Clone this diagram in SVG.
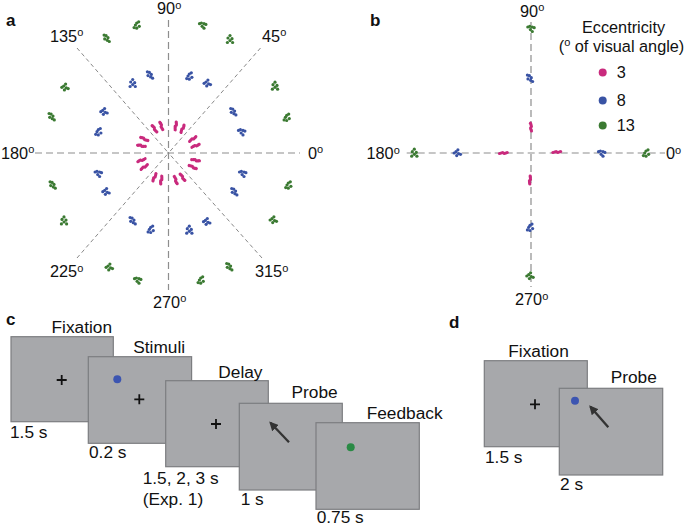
<svg xmlns="http://www.w3.org/2000/svg" xmlns:xlink="http://www.w3.org/1999/xlink" width="685" height="526" viewBox="0 0 685 526">
<style>
text{font-family:"Liberation Sans",Arial,Helvetica,sans-serif;fill:#111}
.ax{font-size:16.3px}
.lb{font-size:17.3px}
.pl{font-size:17px;font-weight:bold}
.sup{font-size:11px}
.axl{stroke:#8e8e8e;stroke-width:1.2;stroke-dasharray:7 4;fill:none}
.dg{stroke:#7a7a7a;stroke-width:0.9;stroke-dasharray:4 3;fill:none}
.pk{fill:#c92a7d}
.bl{fill:#3953a4}
.gr{fill:#3b7a32}
.scr{fill:#a7a8ab;stroke:#7c7d80;stroke-width:1.2}
.cr{stroke:#111;stroke-width:1.8;fill:none}
.arr{stroke:#333;stroke-width:2.3;fill:none;marker-end:url(#ah)}
</style>
<defs>
<marker id="ah" viewBox="0 0 10 10" refX="8" refY="5" markerWidth="4" markerHeight="4" orient="auto" markerUnits="strokeWidth">
<path d="M0,0 L10,5 L0,10 z" fill="#333"/>
</marker>
<g id="ps"><circle cx="-3.8" cy="0.5" r="1.6"/><circle cx="-2.2" cy="0" r="1.6"/><circle cx="-0.6" cy="-0.4" r="1.6"/><circle cx="1" cy="0.4" r="1.6"/><circle cx="2.6" cy="0" r="1.6"/><circle cx="3.9" cy="-0.5" r="1.6"/></g>
<g id="ka"><circle cx="-2.6" cy="-3.2" r="1.6"/><circle cx="-0.6" cy="-2.6" r="1.6"/><circle cx="1.3" cy="-0.6" r="1.6"/><circle cx="-2" cy="0.6" r="1.6"/><circle cx="0.6" cy="2" r="1.6"/><circle cx="2.6" cy="3.2" r="1.6"/></g>
<g id="kb"><circle cx="-3.2" cy="0" r="1.6"/><circle cx="-1.3" cy="-1.3" r="1.6"/><circle cx="0.6" cy="-3.2" r="1.6"/><circle cx="1.3" cy="0.6" r="1.6"/><circle cx="3.2" cy="1.3" r="1.6"/><circle cx="-0.6" cy="2.6" r="1.6"/></g>
<g id="kc"><circle cx="-2.6" cy="2.6" r="1.6"/><circle cx="-1.3" cy="0" r="1.6"/><circle cx="0" cy="-2" r="1.6"/><circle cx="2" cy="-3.2" r="1.6"/><circle cx="2.6" cy="1.3" r="1.6"/><circle cx="0" cy="3.2" r="1.6"/></g>
<g id="kd"><circle cx="-3.2" cy="-1.3" r="1.6"/><circle cx="-1.3" cy="-2" r="1.6"/><circle cx="1.3" cy="-1.3" r="1.6"/><circle cx="3.2" cy="-0.6" r="1.6"/><circle cx="-0.6" cy="1.3" r="1.6"/><circle cx="1.3" cy="3.2" r="1.6"/></g>
<g id="ke"><circle cx="0" cy="-3.8" r="1.6"/><circle cx="-2" cy="-1.3" r="1.6"/><circle cx="2" cy="-0.6" r="1.6"/><circle cx="0" cy="1.3" r="1.6"/><circle cx="-2.6" cy="3.2" r="1.6"/><circle cx="2.6" cy="3.2" r="1.6"/></g>
</defs>
<rect width="685" height="526" fill="#fff"/>

<g id="panel-a">
<text class="pl" x="6" y="26">a</text>
<line class="axl" x1="35" y1="153" x2="300" y2="153"/>
<line class="axl" x1="168.5" y1="20" x2="168.5" y2="290"/>
<line class="dg" x1="77" y1="48" x2="168.5" y2="153"/>
<line class="dg" x1="260.5" y1="48" x2="168.5" y2="153"/>
<line class="dg" x1="77" y1="258" x2="168.5" y2="153"/>
<line class="dg" x1="262" y1="258" x2="168.5" y2="153"/>
<text class="ax" x="157" y="14">90<tspan class="sup" dy="-5.5">o</tspan></text>
<text class="ax" x="50" y="41.7">135<tspan class="sup" dy="-5.5">o</tspan></text>
<text class="ax" x="262" y="41.7">45<tspan class="sup" dy="-5.5">o</tspan></text>
<text class="ax" x="1" y="158.5">180<tspan class="sup" dy="-5.5">o</tspan></text>
<text class="ax" x="308" y="158.5">0<tspan class="sup" dy="-5.5">o</tspan></text>
<text class="ax" x="50" y="277">225<tspan class="sup" dy="-5.5">o</tspan></text>
<text class="ax" x="255" y="277">315<tspan class="sup" dy="-5.5">o</tspan></text>
<text class="ax" x="153" y="307.5">270<tspan class="sup" dy="-5.5">o</tspan></text>
<g id="a-pink" class="pk">
<use href="#ps" transform="translate(195.5,145.8) rotate(-15)"/>
<use href="#ps" transform="translate(192.7,139) rotate(-30)"/>
<use href="#ps" transform="translate(182.5,128.8) rotate(-60)"/>
<use href="#ps" transform="translate(175.7,126) rotate(-75)"/>
<use href="#ps" transform="translate(161.3,126) rotate(-105)"/>
<use href="#ps" transform="translate(154.5,128.8) rotate(-120)"/>
<use href="#ps" transform="translate(144.3,139) rotate(-150)"/>
<use href="#ps" transform="translate(141.5,145.8) rotate(-165)"/>
<use href="#ps" transform="translate(141.5,160.2) rotate(-195)"/>
<use href="#ps" transform="translate(144.3,167) rotate(-210)"/>
<use href="#ps" transform="translate(154.5,177.2) rotate(-240)"/>
<use href="#ps" transform="translate(161.3,180) rotate(-255)"/>
<use href="#ps" transform="translate(175.7,180) rotate(-285)"/>
<use href="#ps" transform="translate(182.5,177.2) rotate(-300)"/>
<use href="#ps" transform="translate(192.7,167) rotate(-330)"/>
<use href="#ps" transform="translate(195.5,160.2) rotate(-345)"/>
</g>
<g id="a-blue" class="bl">
<use href="#kd" x="241.7" y="131.7"/>
<use href="#ka" x="233.3" y="111.7"/>
<use href="#kb" x="207.3" y="83.3"/>
<use href="#kc" x="189.3" y="76"/>
<use href="#ka" x="150" y="75"/>
<use href="#ke" x="132.7" y="83.3"/>
<use href="#kb" x="104" y="111.7"/>
<use href="#kc" x="98.3" y="131.7"/>
<use href="#kd" x="98.3" y="173.3"/>
<use href="#kb" x="106" y="191.7"/>
<use href="#ka" x="132.7" y="220.7"/>
<use href="#kc" x="150.7" y="229.3"/>
<use href="#ke" x="189.3" y="230"/>
<use href="#kb" x="206.7" y="221.7"/>
<use href="#ka" x="234.3" y="191.7"/>
<use href="#kd" x="242.7" y="173.3"/>
</g>
<g id="a-green" class="gr">
<use href="#kc" x="136.7" y="25"/>
<use href="#ka" x="106.7" y="38.3"/>
<use href="#kd" x="202.7" y="25"/>
<use href="#ke" x="230" y="39.3"/>
<use href="#kb" x="65" y="87.3"/>
<use href="#ka" x="51.7" y="116.7"/>
<use href="#ke" x="275" y="86"/>
<use href="#kc" x="286.7" y="117.3"/>
<use href="#ka" x="52.7" y="185"/>
<use href="#ke" x="64" y="220.7"/>
<use href="#kb" x="109.3" y="267.3"/>
<use href="#kd" x="137.7" y="280"/>
<use href="#kc" x="200.7" y="280"/>
<use href="#ka" x="229.3" y="266.7"/>
<use href="#kb" x="273.3" y="220"/>
<use href="#kc" x="288.3" y="185"/>
</g>
</g>

<g id="panel-b">
<text class="pl" x="370" y="26">b</text>
<line class="axl" x1="406.7" y1="153" x2="665" y2="153"/>
<line class="axl" x1="531" y1="22" x2="531" y2="287"/>
<text class="ax" x="520" y="16.7">90<tspan class="sup" dy="-5.5">o</tspan></text>
<text class="ax" x="366.5" y="159">180<tspan class="sup" dy="-5.5">o</tspan></text>
<text class="ax" x="666" y="159">0<tspan class="sup" dy="-5.5">o</tspan></text>
<text class="ax" x="515" y="305">270<tspan class="sup" dy="-5.5">o</tspan></text>
<g class="pk">
<use href="#ps" transform="translate(503.3,153)"/>
<use href="#ps" transform="translate(556.7,152)"/>
<use href="#ps" transform="translate(531,127) rotate(90)"/>
<use href="#ps" transform="translate(530,180) rotate(100)"/>
</g>
<g class="bl">
<use href="#kb" x="457.3" y="153"/>
<use href="#kd" x="601.7" y="153"/>
<use href="#ka" x="530" y="78.3"/>
<use href="#kc" x="530" y="227.3"/>
</g>
<g class="gr">
<use href="#ke" x="414.3" y="153"/>
<use href="#kc" x="646" y="153"/>
<use href="#kd" x="531" y="28.3"/>
<use href="#kb" x="530" y="276"/>
</g>
<g id="legend">
<text class="ax" x="623.5" y="33" text-anchor="middle">Eccentricity</text>
<text class="ax" x="621.5" y="51.7" text-anchor="middle">(<tspan class="sup" dy="-5.5">o</tspan><tspan dy="5.5"> of visual angle)</tspan></text>
<circle class="pk" cx="602.7" cy="72.5" r="4"/>
<text class="ax" x="616.7" y="78.3">3</text>
<circle class="bl" cx="602.7" cy="100.5" r="4"/>
<text class="ax" x="616.7" y="106.3">8</text>
<circle class="gr" cx="602.7" cy="125.5" r="4"/>
<text class="ax" x="616.7" y="131.3">13</text>
</g>
</g>

<g id="panel-c">
<text class="pl" x="6" y="325">c</text>
<g id="c-fixation">
<rect class="scr" x="11" y="336.7" width="102.3" height="85"/>
<path class="cr" d="M56.7,380 h10 M61.7,375 v10"/>
<text class="lb" x="51.5" y="332.7">Fixation</text>
<text class="lb" x="10" y="438.3">1.5 s</text>
</g>
<g id="c-stimuli">
<rect class="scr" x="88.3" y="356.7" width="103.3" height="86.6"/>
<circle cx="117.3" cy="379.3" r="4" fill="#3c55b1"/>
<path class="cr" d="M134.3,399.3 h10 M139.3,394.3 v10"/>
<text class="lb" x="133.3" y="353.3">Stimuli</text>
<text class="lb" x="89" y="458.3">0.2 s</text>
</g>
<g id="c-delay">
<rect class="scr" x="165.7" y="380.7" width="102.6" height="86"/>
<path class="cr" d="M211,424 h10 M216,419 v10"/>
<text class="lb" x="218.3" y="378.3">Delay</text>
<text class="lb" x="142.7" y="484">1.5, 2, 3 s</text>
<text class="lb" x="142.7" y="505">(Exp. 1)</text>
</g>
<g id="c-probe">
<rect class="scr" x="239.3" y="403.3" width="103" height="86.7"/>
<line class="arr" x1="289" y1="442.3" x2="270.5" y2="422.8"/>
<text class="lb" x="291.5" y="398.3">Probe</text>
<text class="lb" x="240.7" y="505">1 s</text>
</g>
<g id="c-feedback">
<rect class="scr" x="316" y="422.7" width="103.3" height="86.6"/>
<circle cx="350.7" cy="447.3" r="4" fill="#2a8a45"/>
<text class="lb" x="366.7" y="419">Feedback</text>
<text class="lb" x="316.7" y="523">0.75 s</text>
</g>
</g>

<g id="panel-d">
<text class="pl" x="449" y="328">d</text>
<g id="d-fixation">
<rect class="scr" x="484.3" y="360.7" width="103" height="86"/>
<path class="cr" d="M530,404.3 h10 M535,399.3 v10"/>
<text class="lb" x="508.3" y="356.7">Fixation</text>
<text class="lb" x="485" y="463.3">1.5 s</text>
</g>
<g id="d-probe">
<rect class="scr" x="559.3" y="388.3" width="103.4" height="86.7"/>
<circle cx="575" cy="400.7" r="4" fill="#3c55b1"/>
<line class="arr" x1="608.3" y1="427.3" x2="590.4" y2="406.7"/>
<text class="lb" x="610.7" y="383.3">Probe</text>
<text class="lb" x="560" y="490">2 s</text>
</g>
</g>
</svg>
